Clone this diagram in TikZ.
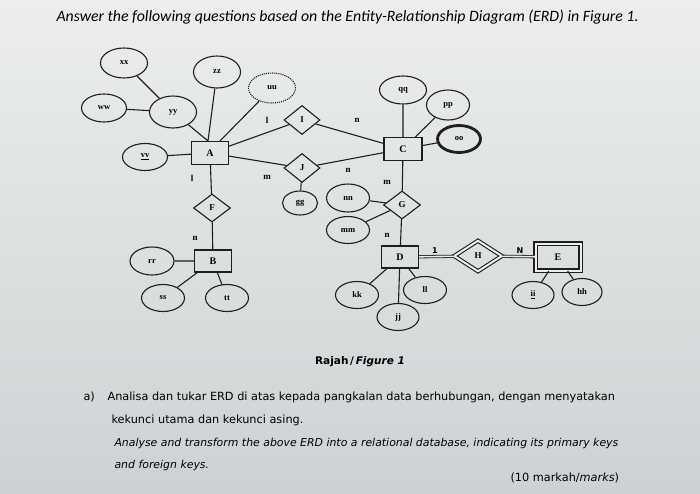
\documentclass[tikz,border=0pt]{standalone}
\usepackage{fontspec}
\setmainfont{Liberation Serif}
\newfontfamily\titlefont{Carlito}
\newfontfamily\parafont{DejaVu Sans}
\usetikzlibrary{shapes.geometric}

\definecolor{paper}{RGB}{236,238,238}
\definecolor{paperdark}{RGB}{204,210,212}
\definecolor{ink}{RGB}{30,30,30}

\tikzset{
  attr/.style={ellipse,draw=ink,line width=1.1pt,inner sep=0pt,minimum width=43pt,minimum height=27pt,font=\fontsize{8.5}{9}\selectfont\bfseries},
  ent/.style={rectangle,draw=ink,line width=1.1pt,inner sep=0pt,minimum width=37pt,minimum height=22pt,font=\fontsize{10}{11}\selectfont\bfseries},
  rel/.style={diamond,draw=ink,line width=1.1pt,inner sep=0pt,minimum width=36pt,minimum height=29pt,font=\fontsize{9}{10}\selectfont\bfseries},
  card/.style={font=\fontsize{9}{10}\selectfont\bfseries},
  link/.style={draw=ink,line width=1.1pt},
  dbl/.style={draw=ink,line width=0.8pt,double=paper,double distance=1.6pt},
  qline/.style={anchor=west,font=\parafont\fontsize{11.3}{12}\selectfont},
}

\begin{document}
\begin{tikzpicture}[x=1pt,y=-1pt]
\shade[top color=paper,bottom color=paperdark] (0,0) rectangle (700,493);
\useasboundingbox (0,0) rectangle (700,493);

\node[anchor=west,font=\titlefont\itshape\fontsize{15.8}{17}\selectfont] (title) at (53,17)
  {Answer the following questions based on the Entity-Relationship Diagram (ERD) in Figure 1.};

\node[attr,minimum width=47pt,minimum height=30pt] (xx) at (124,63) {xx};
\node[attr,minimum width=47pt,minimum height=32pt] (zz) at (217,72) {zz};
\node[attr,minimum width=47pt,minimum height=30pt,densely dotted] (uu) at (272,88) {uu};
\node[attr,minimum width=45pt,minimum height=28pt] (ww) at (104,108) {ww};
\node[attr,minimum width=47pt,minimum height=32pt] (yy) at (173,112) {yy};
\node[attr,minimum width=45pt] (vv) at (145,157) {\underline{vv}};
\node[ent,minimum height=23pt] (A) at (210,153) {A};
\node[rel] (I) at (302,120) {I};
\node[rel] (J) at (302,168) {J};
\node[rel,minimum width=37pt,minimum height=28pt] (F) at (212,208) {F};
\node[attr,minimum width=35pt,minimum height=24pt] (gg) at (300,203) {gg};

\node[attr,minimum width=47pt,minimum height=28pt] (qq) at (403,90) {qq};
\node[attr,minimum height=30pt] (pp) at (448,105) {pp};
\node[attr,line width=2.8pt] (oo) at (459,139) {oo};
\node[ent,minimum width=38pt,minimum height=23pt] (C) at (403,149) {C};
\node[attr,minimum height=28pt] (nn) at (348,198) {nn};
\node[rel,minimum width=37pt,minimum height=28pt] (G) at (402,205) {G};
\node[attr] (mm) at (348,230) {mm};

\node[ent] (D) at (400,257) {D};
\node[rel,double=paper,double distance=2pt,minimum width=48pt,minimum height=31pt] (H) at (478,256) {H};
\node[ent,double=paper,double distance=2pt,minimum width=45pt,minimum height=27pt] (E) at (558,257) {E};
\node[attr] (kk) at (357,295) {kk};
\node[attr] (ll) at (425,290) {ll};
\node[attr,minimum width=42pt] (jj) at (398,317) {jj};
\node[attr,minimum width=42pt] (ii) at (533,295) {\underline{ii}};
\node[attr,minimum width=40pt] (hh) at (582,292) {hh};

\node[attr,minimum width=44pt,minimum height=28pt] (rr) at (152,261) {rr};
\node[ent] (B) at (213,261) {B};
\node[attr] (ss) at (163,298) {ss};
\node[attr] (tt) at (227,298) {tt};

\draw[link] (xx) -- (yy) (ww) -- (yy) (vv) -- (A);
\draw[link] (yy) -- ([xshift=-2pt]A.north) (zz) -- ([xshift=-2pt]A.north) (uu) -- ([xshift=10pt]A.north);
\draw[link] (A) -- (I) (A) -- (J) (A) -- (F) (I) -- (C) (J) -- (C) (J) -- (gg);
\draw[link] (qq) -- (C) (pp) -- (C) (oo) -- (C) (C) -- (G);
\draw[link] (nn) -- (G) (mm) -- (G) (G) -- (D);
\draw[link] (F) -- (B) (rr) -- (B) (ss) -- (B) (tt) -- (B);
\draw[link] (D) -- (kk) (D) -- (ll) (D) -- (jj) (E) -- (ii) (E) -- (hh);
\draw[dbl] (D) -- (H);
\draw[dbl] (H) -- (E);

\node[card] (cAI) at (267,120) {l};
\node[card] (cAJ) at (267,177) {m};
\node[card] (cAF) at (192,178) {l};
\node[card] (cIC) at (357,120) {n};
\node[card] (cJC) at (348,170) {n};
\node[card] (cCG) at (387,182) {m};
\node[card] (cGD) at (387,235) {n};
\node[card] (cFB) at (195,238) {n};
\node[card,font=\parafont\fontsize{8}{9}\selectfont\bfseries] (cDH) at (435,251) {1};
\node[card,font=\parafont\fontsize{8}{9}\selectfont\bfseries] (cHE) at (520,251) {N};

\node[font=\parafont\bfseries\fontsize{10.5}{12}\selectfont] (cap) at (360,362) {Rajah\,/\,\textit{Figure 1}};
\node[qline] (qa) at (80,397) {a)};
\node[qline] (qb) at (104,397) {Analisa dan tukar ERD di atas kepada pangkalan data berhubungan, dengan menyatakan};
\node[qline] (qc) at (108,420) {kekunci utama dan kekunci asing.};
\node[qline,font=\parafont\itshape\fontsize{10.9}{12}\selectfont] (qd) at (111,443) {Analyse and transform the above ERD into a relational database, indicating its primary keys};
\node[qline,font=\parafont\itshape\fontsize{10.9}{12}\selectfont] (qe) at (111,465) {and foreign keys.};
\node[qline] (qf) at (507,478) {(10 markah/\textit{marks})};
\end{tikzpicture}
\end{document}
